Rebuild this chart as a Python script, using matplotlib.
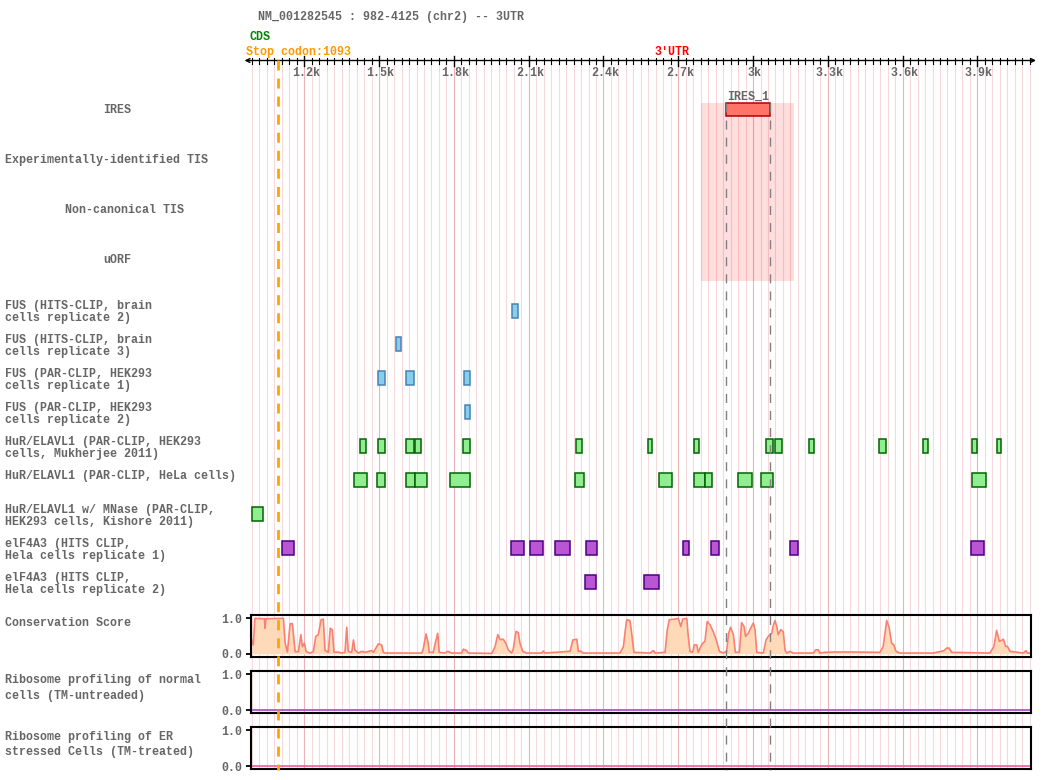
import matplotlib
matplotlib.use('Agg')
import matplotlib.pyplot as plt
from matplotlib.patches import Rectangle

plt.rcParams['font.family'] = ['Liberation Mono', 'DejaVu Sans Mono']
plt.rcParams['font.weight'] = 'bold'
plt.rcParams['lines.scale_dashes'] = False

# ---------------- data ----------------
title_text = "NM_001282545 : 982-4125 (chr2) -- 3UTR"
region_start, region_end = 982, 4125
stop_codon = 1093
ires_name = "IRES_1"
ires_start, ires_end = 2891, 3066
ires_zone = (2791, 3164)

major_ticks = [1200, 1500, 1800, 2100, 2400, 2700, 3000, 3300, 3600, 3900]
major_labels = ["1.2k", "1.5k", "1.8k", "2.1k", "2.4k", "2.7k", "3k", "3.3k", "3.6k", "3.9k"]
minor_step = 30

fus_hits_rep2 = [(2033, 2057)]
fus_hits_rep3 = [(1568, 1587)]
fus_par_rep1 = [(1497, 1522), (1609, 1639), (1842, 1865)]
fus_par_rep2 = [(1846, 1865)]
hur_mukherjee = [(1425, 1446), (1497, 1522), (1609, 1639), (1645, 1667), (1838, 1863),
                 (2291, 2312), (2580, 2596), (2763, 2785), (3051, 3082), (3088, 3118),
                 (3224, 3246), (3506, 3534), (3681, 3703), (3878, 3899), (3977, 3995)]
hur_hela = [(1401, 1450), (1493, 1522), (1609, 1644), (1644, 1691), (1786, 1863),
            (2287, 2320), (2624, 2676), (2763, 2807), (2807, 2834), (2940, 2994),
            (3032, 3082), (3878, 3935)]
hur_mnase = [(991, 1033)]
eif4a3_rep1 = [(1112, 1157), (2031, 2080), (2106, 2156), (2207, 2264), (2331, 2373),
               (2719, 2745), (2832, 2865), (3148, 3181), (3874, 3926)]
eif4a3_rep2 = [(2327, 2368), (2563, 2621)]

cons_pos = [989, 995, 1002, 1036, 1040, 1042, 1046, 1116, 1123, 1132, 1143, 1152, 1163, 1176,
            1186, 1192, 1200, 1207, 1223, 1236, 1246, 1256, 1267, 1276, 1283, 1296, 1304, 1312,
            1319, 1336, 1350, 1363, 1370, 1376, 1390, 1397, 1403, 1417, 1430, 1443, 1470, 1477,
            1497, 1510, 1517, 1524, 1671, 1677, 1688, 1697, 1701, 1717, 1727, 1735, 1741, 1764,
            1775, 1791, 1831, 1838, 1851, 1858, 1952, 1965, 1976, 1985, 1998, 2008, 2018, 2032,
            2038, 2049, 2058, 2065, 2076, 2092, 2152, 2159, 2165, 2266, 2277, 2293, 2299, 2309,
            2319, 2466, 2480, 2486, 2493, 2506, 2513, 2522, 2587, 2600, 2607, 2647, 2656, 2664,
            2687, 2700, 2710, 2718, 2734, 2740, 2747, 2758, 2764, 2774, 2780, 2790, 2798, 2807,
            2816, 2827, 2840, 2854, 2865, 2881, 2894, 2902, 2910, 2921, 2929, 2945, 2954, 2964,
            2970, 2981, 2991, 3001, 3008, 3015, 3041, 3052, 3061, 3075, 3080, 3088, 3095, 3101,
            3111, 3121, 3128, 3135, 3148, 3161, 3242, 3251, 3262, 3268, 3288, 3329, 3402, 3509,
            3522, 3536, 3545, 3556, 3565, 3573, 3589, 3723, 3734, 3757, 3766, 3777, 3787, 3797,
            3950, 3966, 3977, 3988, 3997, 4004, 4013, 4020, 4031, 4084, 4095, 4100, 4113]
cons_score = [0.39, 0.25, 1.0, 0.99, 0.99, 0.72, 0.99, 1.0, 0.30, 0.05, 0.85, 0.85, 0.06, 0.06,
              0.54, 0.20, 0.30, 0.06, 0.02, 0.06, 0.49, 0.54, 0.96, 0.98, 0.10, 0.04, 0.72, 0.68,
              0.04, 0.05, 0.02, 0.04, 0.75, 0.07, 0.04, 0.39, 0.11, 0.02, 0.07, 0.04, 0.09, 0.04,
              0.28, 0.25, 0.04, 0.02, 0.02, 0.13, 0.56, 0.30, 0.04, 0.04, 0.35, 0.58, 0.04, 0.02,
              0.07, 0.02, 0.02, 0.13, 0.09, 0.02, 0.01, 0.20, 0.54, 0.40, 0.41, 0.30, 0.11, 0.02,
              0.13, 0.63, 0.60, 0.30, 0.07, 0.02, 0.02, 0.08, 0.02, 0.07, 0.39, 0.41, 0.07, 0.07,
              0.02, 0.02, 0.20, 0.58, 0.96, 0.94, 0.58, 0.04, 0.02, 0.09, 0.02, 0.04, 0.68, 0.96,
              0.98, 1.0, 0.77, 0.98, 1.0, 0.49, 0.07, 0.04, 0.25, 0.25, 0.04, 0.20, 0.30, 0.35,
              0.91, 0.82, 0.63, 0.35, 0.07, 0.02, 0.07, 0.58, 0.75, 0.54, 0.04, 0.04, 0.88, 0.77,
              0.49, 0.58, 0.73, 0.87, 0.68, 0.04, 0.02, 0.39, 0.49, 0.58, 0.77, 0.94, 0.77, 0.54,
              0.68, 0.63, 0.11, 0.02, 0.07, 0.02, 0.02, 0.11, 0.11, 0.02, 0.04, 0.05, 0.05, 0.04,
              0.20, 0.94, 0.77, 0.30, 0.25, 0.07, 0.02, 0.02, 0.04, 0.07, 0.09, 0.16, 0.16, 0.04,
              0.02, 0.20, 0.66, 0.35, 0.38, 0.41, 0.21, 0.21, 0.07, 0.02, 0.09, 0.02, 0.02]

ribo_pos = [987, 4113]
ribo_normal = [0.0, 0.0]
ribo_er = [0.0, 0.0]

# ---------------- layout ----------------
W, H = 1050, 780
fig = plt.figure(figsize=(W / 100, H / 100), dpi=100)
FS = 8.4
GRAY = '#666666'
TY = 0.8  # small vertical text offset (px)

AX_L, AX_R, AX_TOP, AX_BOT = 250.0, 1033.5, 40.0, 770.0


def xpx(v):
    return AX_L + (v - region_start) * (AX_R - AX_L) / (region_end - region_start)


def ftext(x, y, s, **kw):
    kw.setdefault('fontsize', FS)
    kw.setdefault('color', GRAY)
    kw.setdefault('va', 'center')
    kw.setdefault('ha', 'left')
    kw.setdefault('fontweight', 'bold')
    fig.text(x / W, 1 - (y + TY) / H, s, **kw)


axpos = [AX_L / W, (H - AX_BOT) / H, (AX_R - AX_L) / W, (AX_BOT - AX_TOP) / H]
ax = fig.add_axes(axpos, zorder=1)
ax.set_xlim(region_start, region_end)
ax.set_ylim(AX_BOT, AX_TOP)
ax.axis('off')

# grid lines
gv = ((region_start // minor_step) + 1) * minor_step
while gv < region_end - 10:
    major = gv % 300 == 0
    ax.plot([gv, gv], [64, AX_BOT], color='#EBB3B8' if major else '#F5D9DD',
            lw=0.8, zorder=1, solid_capstyle='butt')
    gv += minor_step

# top axis
AXIS_Y = 60.5
ax.annotate('', xy=(4135, AXIS_Y), xytext=(960, AXIS_Y),
            arrowprops=dict(arrowstyle='<->', lw=1.0, color='black', mutation_scale=7,
                            shrinkA=0, shrinkB=0), annotation_clip=False)
gv = ((region_start // minor_step) + 1) * minor_step
while gv < region_end:
    if gv % 300 == 0:
        ax.plot([gv, gv], [56, 65.5], color='black', lw=1.0, clip_on=False)
    else:
        ax.plot([gv, gv], [57.5, 63.5], color='black', lw=0.8, clip_on=False)
    gv += minor_step
for t, lab in zip(major_ticks, major_labels):
    ax.text(t + 6, 72 + TY, lab, ha='center', va='center', fontsize=FS, color=GRAY,
            fontweight='bold')

# IRES zone and feature
ax.add_patch(Rectangle((ires_zone[0], 103), ires_zone[1] - ires_zone[0], 178,
                       facecolor='#FF0000', alpha=0.13, edgecolor='none', zorder=1.5))
ax.add_patch(Rectangle((ires_start, 103), ires_end - ires_start, 13,
                       facecolor='#FF7466', edgecolor='#B20000', lw=1.1, zorder=3))
ax.text((ires_start + ires_end) / 2, 95.5 + TY, ires_name, ha='center', va='center',
        fontsize=FS, color=GRAY, fontweight='bold')

# feature tracks
rows = [
    (fus_hits_rep2, 310.5, '#87CEEB', '#4682B4'),
    (fus_hits_rep3, 344.0, '#87CEEB', '#4682B4'),
    (fus_par_rep1, 378.0, '#87CEEB', '#4682B4'),
    (fus_par_rep2, 412.0, '#87CEEB', '#4682B4'),
    (hur_mukherjee, 446.0, '#90EE90', '#006400'),
    (hur_hela, 480.0, '#90EE90', '#006400'),
    (hur_mnase, 514.0, '#90EE90', '#006400'),
    (eif4a3_rep1, 548.0, '#BA55D3', '#4B0082'),
    (eif4a3_rep2, 582.0, '#BA55D3', '#4B0082'),
]
for feats, yc, fc, ec in rows:
    for s, e in feats:
        ax.add_patch(Rectangle((s, yc - 7), e - s, 14, facecolor=fc, edgecolor=ec,
                               lw=1.1, zorder=3))

# header texts
ftext(258, 16, title_text)
ftext(249, 36, "CDS", color='#008800')
ftext(246, 51, "Stop codon:%d" % stop_codon, color='#FF9900')
ftext(655, 51, "3'UTR", color='#FF0000')

# left labels
labels = [
    (103, 109.3, "IRES"),
    (5, 159.3, "Experimentally-identified TIS"),
    (65, 209, "Non-canonical TIS"),
    (103, 259.3, "uORF"),
    (5, 305, "FUS (HITS-CLIP, brain"), (5, 316.7, "cells replicate 2)"),
    (5, 339.3, "FUS (HITS-CLIP, brain"), (5, 351, "cells replicate 3)"),
    (5, 373.3, "FUS (PAR-CLIP, HEK293"), (5, 385, "cells replicate 1)"),
    (5, 407.3, "FUS (PAR-CLIP, HEK293"), (5, 419, "cells replicate 2)"),
    (5, 441, "HuR/ELAVL1 (PAR-CLIP, HEK293"), (5, 452.7, "cells, Mukherjee 2011)"),
    (5, 475, "HuR/ELAVL1 (PAR-CLIP, HeLa cells)"),
    (5, 509.3, "HuR/ELAVL1 w/ MNase (PAR-CLIP,"), (5, 520.7, "HEK293 cells, Kishore 2011)"),
    (5, 543.3, "elF4A3 (HITS CLIP,"), (5, 555, "Hela cells replicate 1)"),
    (5, 577.3, "elF4A3 (HITS CLIP,"), (5, 589, "Hela cells replicate 2)"),
    (5, 621.7, "Conservation Score"),
    (5, 679, "Ribosome profiling of normal"), (5, 695, "cells (TM-untreaded)"),
    (5, 736, "Ribosome profiling of ER"), (5, 751.7, "stressed Cells (TM-treated)"),
]
for x, y, s in labels:
    ftext(x, y, s)

# signal tracks
TL, TR = xpx(ribo_pos[0]), xpx(ribo_pos[1])


def track_axes(top, bot):
    a = fig.add_axes([TL / W, (H - bot) / H, (TR - TL) / W, (bot - top) / H], zorder=2)
    a.set_facecolor('none')
    a.set_xlim(ribo_pos[0], ribo_pos[1])
    a.set_ylim(-0.08, 1.09)
    for sp in a.spines.values():
        sp.set_linewidth(1.5)
        sp.set_color('black')
    a.set_xticks([])
    a.set_yticks([0, 1])
    a.set_yticklabels(['0.0', '1.0'])
    a.tick_params(axis='y', length=3.6, width=1.3, pad=3, labelsize=FS, labelcolor=GRAY)
    for lab in a.get_yticklabels():
        lab.set_fontweight('bold')
    return a


a1 = track_axes(615.2, 656.6)
a1.fill_between(cons_pos, 0, cons_score, color='#FFDAB9', lw=0, zorder=1)
a1.plot(cons_pos, cons_score, color='#FA8072', lw=1.2, zorder=2)

a2 = track_axes(671.2, 713.2)
a2.plot(ribo_pos, ribo_normal, color='#B060D0', lw=1.4)

a3 = track_axes(727.2, 769.0)
a3.plot(ribo_pos, ribo_er, color='#FF6EA8', lw=1.4)

# overlay dashed markers
ov = fig.add_axes(axpos, zorder=5)
ov.set_facecolor('none')
ov.set_xlim(region_start, region_end)
ov.set_ylim(AX_BOT, AX_TOP)
ov.axis('off')
ov.plot([stop_codon, stop_codon], [60, AX_BOT], color='#FFA500', lw=2.0,
        linestyle=(0, (7.2, 5.8)), clip_on=False)
for xv in (ires_start, ires_end):
    ov.plot([xv, xv], [103, AX_BOT], color='#808080', lw=1.0,
            linestyle=(0, (6.5, 5.8)), clip_on=False)

fig.savefig('out.png', dpi=100)
